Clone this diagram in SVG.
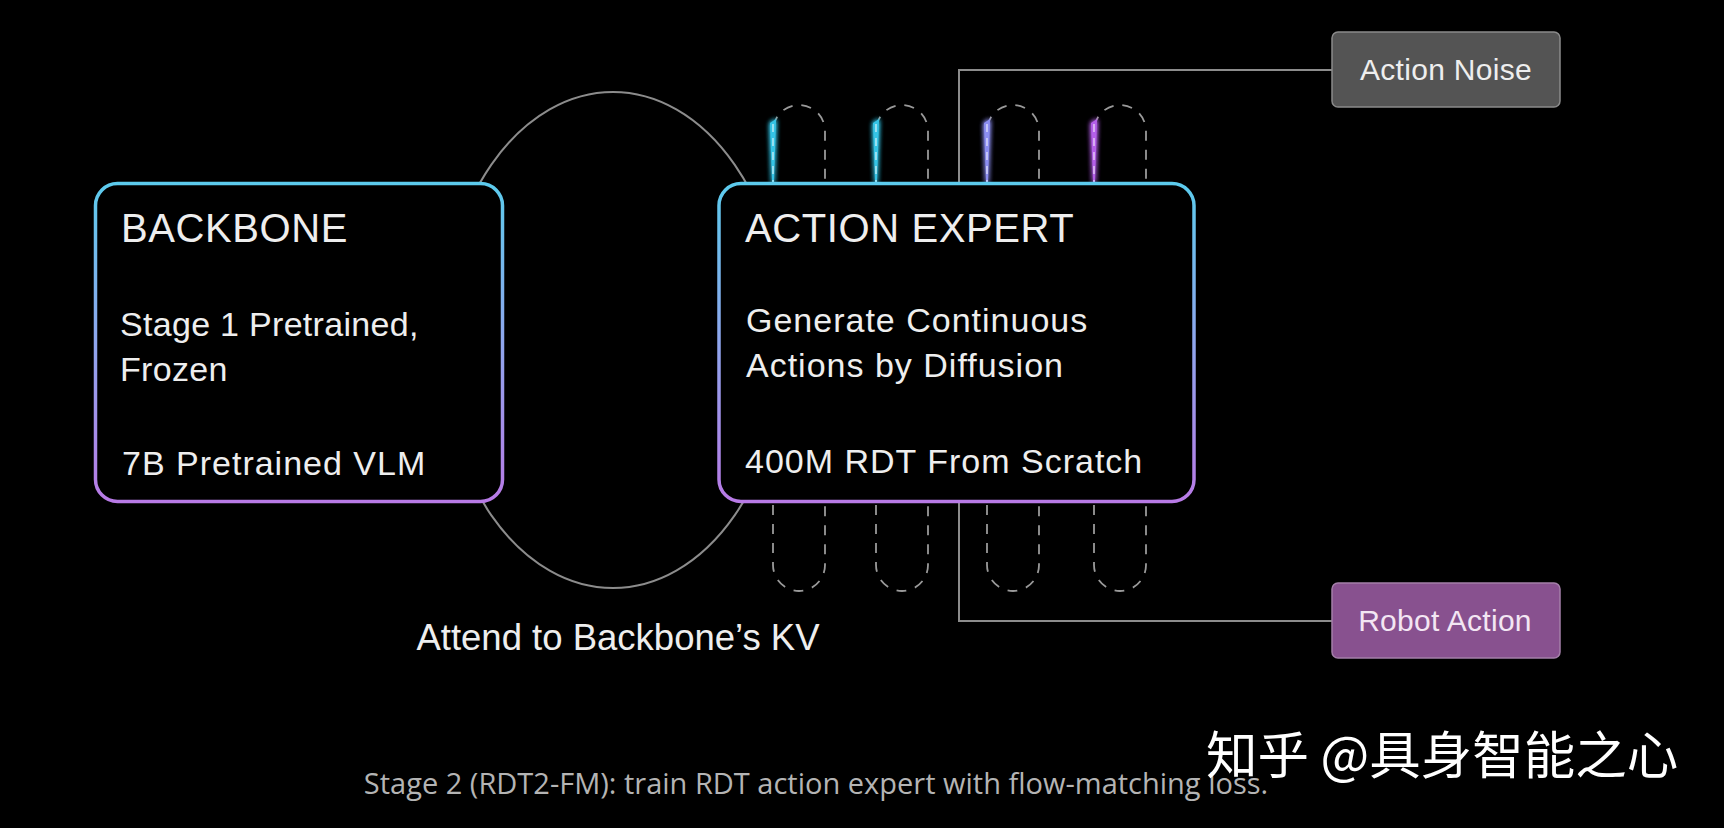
<svg xmlns="http://www.w3.org/2000/svg" width="1724" height="828" viewBox="0 0 1724 828">
  <defs>
    <linearGradient id="border" x1="0" y1="0" x2="0" y2="1">
      <stop offset="0" stop-color="#5ccbed"/>
      <stop offset="0.5" stop-color="#8fa6ee"/>
      <stop offset="1" stop-color="#b87ae6"/>
    </linearGradient>
    <filter id="glow" x="-300%" y="-20%" width="700%" height="140%">
      <feGaussianBlur stdDeviation="2.5" result="b"/>
      <feMerge><feMergeNode in="b"/><feMergeNode in="b"/><feMergeNode in="SourceGraphic"/></feMerge>
    </filter>
    <style>
      .box { fill: #000; stroke: url(#border); stroke-width: 3.5; }
      .title { font-family: "Liberation Sans", Arial, sans-serif; font-size: 40px; letter-spacing: 0.6px; fill: #eeeeee; }
      .body { font-family: "Liberation Sans", Arial, sans-serif; font-size: 34px; letter-spacing: 1px; fill: #eeeeee; }
      .tight { letter-spacing: 0.3px; }
      .lbl { font-family: "Liberation Sans", Arial, sans-serif; font-size: 30px; letter-spacing: 0.3px; text-anchor: middle; }
      .conn { fill: none; stroke: #8c8c8c; stroke-width: 2; }
      .pill { fill: none; stroke: #9a9a9a; stroke-width: 1.8; stroke-dasharray: 10 9; }
      .spark { stroke: #ffffff; stroke-width: 1.2; stroke-dasharray: 8 6; opacity: 0.8; }
    </style>
  </defs>
  <rect width="1724" height="828" fill="#000"/>

  <g id="connectors">
    <ellipse cx="613" cy="340" rx="172" ry="248" class="conn"/>
    <polyline class="conn" points="1332,70 959,70 959,184"/>
    <polyline class="conn" points="959,500 959,621 1332,621"/>
  </g>

  <g id="tokens">
    <path class="pill" d="M773,183 L773,131 A26,26 0 0 1 825,131 L825,183"/>
    <path class="pill" d="M876,183 L876,131 A26,26 0 0 1 928,131 L928,183"/>
    <path class="pill" d="M987,183 L987,131 A26,26 0 0 1 1039,131 L1039,183"/>
    <path class="pill" d="M1094,183 L1094,131 A26,26 0 0 1 1146,131 L1146,183"/>
    <path class="pill" d="M773,505 L773,565 A26,26 0 0 0 825,565 L825,505"/>
    <path class="pill" d="M876,505 L876,565 A26,26 0 0 0 928,565 L928,505"/>
    <path class="pill" d="M987,505 L987,565 A26,26 0 0 0 1039,565 L1039,505"/>
    <path class="pill" d="M1094,505 L1094,565 A26,26 0 0 0 1146,565 L1146,505"/>
    <g filter="url(#glow)">
      <polygon points="770,123 776,119 774,183 772,183" fill="#36c4e6"/>
      <polygon points="873,123 879,119 877,183 875,183" fill="#36c4e6"/>
      <polygon points="984,123 990,119 988,183 986,183" fill="#8c8ef2"/>
      <polygon points="1091,123 1097,119 1095,183 1093,183" fill="#b45ee9"/>
    </g>
    <line class="spark" x1="773" y1="124" x2="773" y2="183"/>
    <line class="spark" x1="876" y1="124" x2="876" y2="183"/>
    <line class="spark" x1="987" y1="124" x2="987" y2="183"/>
    <line class="spark" x1="1094" y1="124" x2="1094" y2="183"/>
  </g>

  <g id="backbone">
    <rect class="box" x="95.5" y="183.5" width="407" height="318" rx="22"/>
    <text class="title" x="121" y="242">BACKBONE</text>
    <text class="body tight" x="120" y="336">Stage 1 Pretrained,</text>
    <text class="body tight" x="120" y="381">Frozen</text>
    <text class="body" x="122" y="475">7B Pretrained VLM</text>
  </g>

  <g id="action-expert">
    <rect class="box" x="719" y="183.5" width="475" height="318" rx="22"/>
    <text class="title" x="745" y="242">ACTION EXPERT</text>
    <text class="body" x="746" y="332">Generate Continuous</text>
    <text class="body" x="746" y="377">Actions by Diffusion</text>
    <text class="body" x="745" y="473">400M RDT From Scratch</text>
  </g>

  <g id="action-noise">
    <rect x="1332" y="32" width="228" height="75" rx="6" fill="#545454" stroke="#8a8a8a" stroke-width="1.5"/>
    <text class="lbl" x="1446" y="80" fill="#eeeeee">Action Noise</text>
  </g>

  <g id="robot-action">
    <rect x="1332" y="583" width="228" height="75" rx="6" fill="#88518f" stroke="#a47fa9" stroke-width="1.5"/>
    <text class="lbl" x="1445" y="631" fill="#f3e6f3">Robot Action</text>
  </g>

  <text id="attend-label" x="618" y="650" text-anchor="middle" font-family="Liberation Sans, Arial, sans-serif" font-size="36.5" fill="#eeeeee">Attend to Backbone’s KV</text>

  <text id="caption" x="816" y="794" text-anchor="middle" font-family="Open Sans, Noto Sans, sans-serif" font-size="29" fill="#b4b4b4">Stage 2 (RDT2-FM): train RDT action expert with flow-matching loss.</text>

  <text id="watermark" x="1206" y="774" font-family="Noto Sans CJK SC, sans-serif" font-size="51.5" fill="#ffffff">知乎 @具身智能之心</text>
</svg>
